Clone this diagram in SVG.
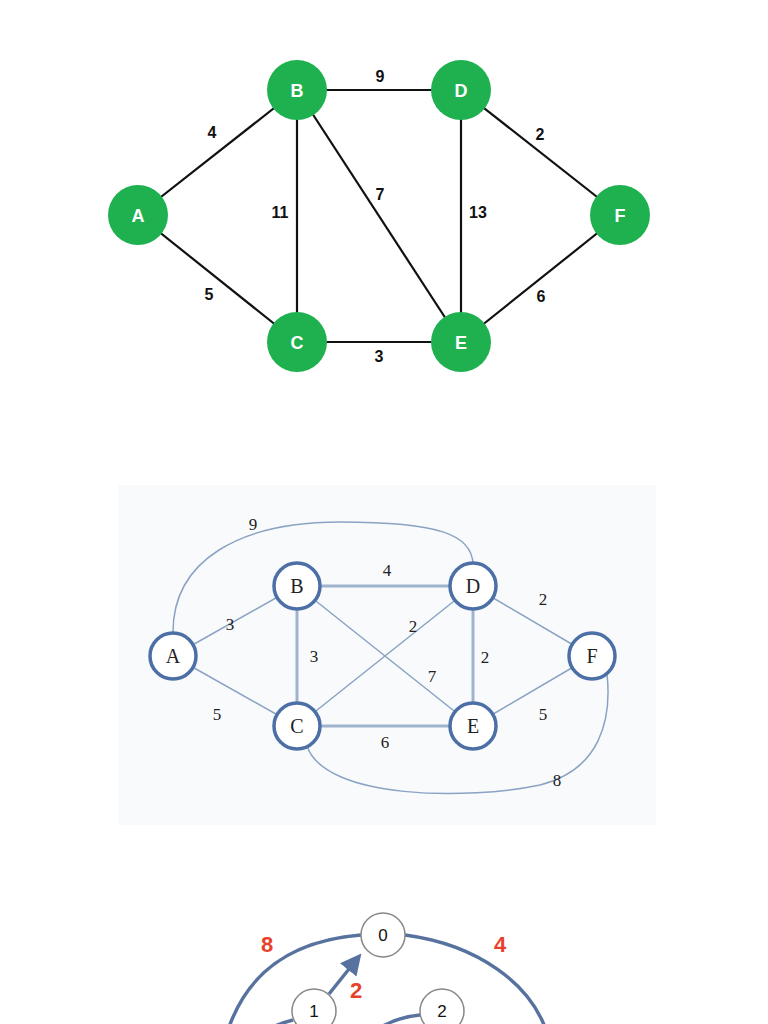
<svg xmlns="http://www.w3.org/2000/svg" width="768" height="1024" viewBox="0 0 768 1024">
<style>
.g1 line{stroke:#111;stroke-width:2.2}
.gn circle{fill:#1fb14f}
.gt{font-family:"Liberation Sans",Arial,sans-serif;font-weight:bold;font-size:18px;fill:#fff;text-anchor:middle}
.gl{font-family:"Liberation Sans",Arial,sans-serif;font-weight:bold;font-size:16px;fill:#111;text-anchor:middle}
.e2{stroke:#8aa3c4;stroke-width:1.5;fill:none}
.e2b{stroke:#9fb3cf;stroke-width:3;fill:none}
.n2 circle{fill:#fff;stroke:#4c6fa6;stroke-width:3.5}
.t2{font-family:"Liberation Serif","Times New Roman",serif;font-size:20px;fill:#222;text-anchor:middle}
.l2{font-family:"Liberation Serif","Times New Roman",serif;font-size:17px;fill:#222;text-anchor:middle}
.e3{stroke:#5872a0;stroke-width:3.5;fill:none}
.n3 circle{fill:#fff;stroke:#888;stroke-width:1.5}
.t3{font-family:"Liberation Sans",Arial,sans-serif;font-size:17px;fill:#111;text-anchor:middle}
.l3{font-family:"Liberation Sans",Arial,sans-serif;font-weight:bold;font-size:22px;fill:#e8412a;text-anchor:middle}
</style>
<defs><marker id="ar" markerWidth="6" markerHeight="6" refX="4" refY="3" orient="auto" markerUnits="strokeWidth"><path d="M0,0 L6,3 L0,6 z" fill="#5872a0"/></marker></defs>
<rect width="768" height="1024" fill="#fff"/>
<rect x="118" y="485" width="538" height="340" fill="#f9fafc"/>
<g id="connectors1" class="g1">
<line x1="138" y1="215" x2="297" y2="90"/><line x1="138" y1="215" x2="297" y2="342"/>
<line x1="297" y1="90" x2="461" y2="90"/><line x1="297" y1="90" x2="297" y2="342"/>
<line x1="297" y1="90" x2="461" y2="342"/><line x1="461" y1="90" x2="461" y2="342"/>
<line x1="461" y1="90" x2="620" y2="215"/><line x1="620" y1="215" x2="461" y2="342"/>
<line x1="297" y1="342" x2="461" y2="342"/>
</g>
<g class="gl"><text x="212" y="138">4</text><text x="209" y="300">5</text><text x="380" y="82">9</text><text x="280" y="218">11</text><text x="380" y="200">7</text><text x="478" y="218">13</text><text x="540" y="140">2</text><text x="541" y="302">6</text><text x="379" y="362">3</text></g>
<g id="A1" class="gn"><circle cx="138" cy="215" r="30"/><text class="gt" x="138" y="222">A</text></g>
<g id="B1" class="gn"><circle cx="297" cy="90" r="30"/><text class="gt" x="297" y="97">B</text></g>
<g id="D1" class="gn"><circle cx="461" cy="90" r="30"/><text class="gt" x="461" y="97">D</text></g>
<g id="F1" class="gn"><circle cx="620" cy="215" r="30"/><text class="gt" x="620" y="222">F</text></g>
<g id="C1" class="gn"><circle cx="297" cy="342" r="30"/><text class="gt" x="297" y="349">C</text></g>
<g id="E1" class="gn"><circle cx="461" cy="342" r="30"/><text class="gt" x="461" y="349">E</text></g>

<g id="connectors2">
<line class="e2" x1="173" y1="656" x2="297" y2="586"/><line class="e2" x1="173" y1="656" x2="297" y2="726"/>
<line class="e2b" x1="297" y1="586" x2="473" y2="586"/><line class="e2b" x1="297" y1="586" x2="297" y2="726"/>
<line class="e2" x1="297" y1="586" x2="473" y2="726"/><line class="e2" x1="297" y1="726" x2="473" y2="586"/>
<line class="e2b" x1="473" y1="586" x2="473" y2="726"/><line class="e2b" x1="297" y1="726" x2="473" y2="726"/>
<line class="e2" x1="473" y1="586" x2="592" y2="656"/><line class="e2" x1="473" y1="726" x2="592" y2="656"/>
<path class="e2" d="M173,634 C172,560 240,522 340,522 C440,522 472,535 473,564"/>
<path class="e2" d="M307,746 C325,800 470,800 540,785 C600,770 612,720 607,674"/>
</g>
<g class="l2"><text x="253" y="530">9</text><text x="230" y="630">3</text><text x="217" y="720">5</text><text x="387" y="576">4</text><text x="314" y="662">3</text><text x="413" y="632">2</text><text x="432" y="682">7</text><text x="485" y="663">2</text><text x="543" y="605">2</text><text x="543" y="720">5</text><text x="385" y="748">6</text><text x="557" y="786">8</text></g>
<g id="A2" class="n2"><circle cx="173" cy="656" r="23"/><text class="t2" x="173" y="663">A</text></g>
<g id="B2" class="n2"><circle cx="297" cy="586" r="23"/><text class="t2" x="297" y="593">B</text></g>
<g id="D2" class="n2"><circle cx="473" cy="586" r="23"/><text class="t2" x="473" y="593">D</text></g>
<g id="F2" class="n2"><circle cx="592" cy="656" r="23"/><text class="t2" x="592" y="663">F</text></g>
<g id="C2" class="n2"><circle cx="297" cy="726" r="23"/><text class="t2" x="297" y="733">C</text></g>
<g id="E2" class="n2"><circle cx="473" cy="726" r="23"/><text class="t2" x="473" y="733">E</text></g>

<g id="connectors3">
<path class="e3" d="M361,935 C300,940 250,965 228,1030"/>
<path class="e3" d="M405,935 C480,945 530,985 546,1030"/>
<line class="e3" x1="329" y1="994" x2="357" y2="959" marker-end="url(#ar)"/>
<path class="e3" d="M293,1020 C285,1022 280,1024 275,1026"/>
<path class="e3" d="M420,1015 C400,1017 390,1022 383,1026"/>
</g>
<g class="l3"><text x="267" y="952">8</text><text x="500" y="952">4</text><text x="356" y="998">2</text></g>
<g id="n0" class="n3"><circle cx="383" cy="935" r="22"/><text class="t3" x="383" y="941">0</text></g>
<g id="n1" class="n3"><circle cx="314" cy="1011" r="22"/><text class="t3" x="314" y="1017">1</text></g>
<g id="n2" class="n3"><circle cx="442" cy="1011" r="22"/><text class="t3" x="442" y="1017">2</text></g>
</svg>
